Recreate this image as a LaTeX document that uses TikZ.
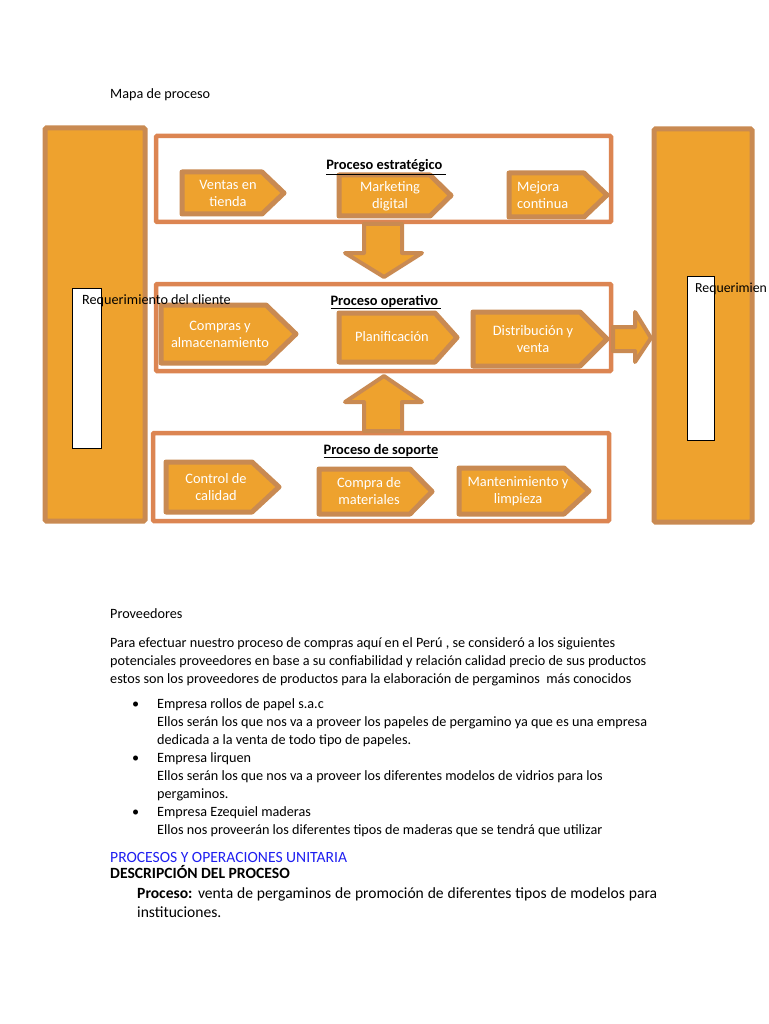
\documentclass[tikz,border=0pt]{standalone}
\usepackage{fontspec}
\setmainfont{Carlito}
\definecolor{fillor}{HTML}{EEA22E}
\definecolor{brd}{HTML}{C98A52}
\definecolor{boxbrd}{HTML}{DC8552}
\definecolor{blu}{HTML}{1F1FF0}
\tikzset{
 bigbar/.style={fill=fillor, draw=brd, line width=5pt, rounded corners=1.5pt},
 procbox/.style={draw=boxbrd, line width=4.5pt, fill=white, rounded corners=1pt},
 chevshape/.style={fill=fillor, draw=brd, line width=5pt, line join=round},
 chevtext/.style={text=white, font=\fontsize{14.4}{17}\selectfont, align=center, inner sep=0},
 titletext/.style={font=\fontsize{14.4}{16}\selectfont\bfseries, inner sep=0, anchor=base},
 body/.style={font=\fontsize{14.2}{18}\selectfont, inner sep=0, anchor=base west},
 whitebar/.style={fill=white, draw=black, line width=0.8pt},
 bigarrow/.style={fill=fillor, draw=brd, line width=4pt, line join=round},
}
% #1 name, #2 x1, #3 y1, #4 x2 (tip), #5 y2, #6 tip start
\newcommand\chevpath[6]{%
 \draw[chevshape] (#2,#3) -- (#6,#3) -- (#4,{(#3+#5)/2}) -- (#6,#5) -- (#2,#5) -- cycle;
 \coordinate (#1) at ({(#2+#4)/2},{(#3+#5)/2});
}
\begin{document}
\begin{tikzpicture}[x=1pt,y=-1pt]
\useasboundingbox (0,0) rectangle (768,1024);
% side bars
\draw[bigbar] (45,128) rectangle (145,521);
\draw[bigbar] (654,129) rectangle (752,522);
\draw[whitebar] (72,288) rectangle (101,448);
\draw[whitebar] (687,276) rectangle (714,440);
% process boxes
\draw[procbox] (156,136) rectangle (611,222);
\draw[procbox] (156,284) rectangle (611,371);
\draw[procbox] (153,433) rectangle (609,521);
% block arrows
\draw[bigarrow] (364,224) -- (364,253) -- (345,253) -- (384,277) -- (422,253) -- (402,253) -- (402,224) -- cycle;
\draw[bigarrow] (364,431) -- (364,402) -- (345,402) -- (384,376) -- (422,402) -- (402,402) -- (402,431) -- cycle;
\draw[bigarrow] (613,327) -- (635,327) -- (635,312) -- (651,338) -- (635,362) -- (635,351) -- (613,351) -- cycle;
% chevrons
\chevpath{c1}{182}{172}{284}{214}{262}
\chevpath{c2}{339}{175}{451}{216}{430}
\chevpath{c3}{509}{173}{607}{217}{584}
\chevpath{c4}{161}{305}{296}{363}{266}
\chevpath{c5}{339}{313}{457}{362}{435}
\chevpath{c6}{473}{312}{607}{366}{580}
\chevpath{c7}{166}{462}{279}{512}{252}
\chevpath{c8}{319}{469}{432}{514}{410}
\chevpath{c9}{459}{468}{589}{514}{564}
\node[chevtext] (t1) at (228,193.5) {Ventas en\\tienda};
\node[chevtext] (t2) at (390,196) {Marketing\\digital};
\node[chevtext, align=left, anchor=west] (t3) at (517,195.5) {Mejora\\continua};
\node[chevtext] (t4) at (220,334.5) {Compras y\\almacenamiento};
\node[chevtext] (t5) at (392,337) {Planificación};
\node[chevtext] (t6) at (533,339) {Distribución y\\venta};
\node[chevtext] (t7) at (216,487) {Control de\\calidad};
\node[chevtext] (t8) at (369,491) {Compra de\\materiales};
\node[chevtext] (t9) at (518,491.5) {Mantenimiento y\\limpieza};
% titles
\node[titletext] (h1) at (386,170) {\underline{Proceso estratégico\ }};
\node[titletext] (h2) at (386,305) {\underline{Proceso operativo\ }};
\node[titletext] (h3) at (381,454) {\underline{Proceso de soporte}};
% side labels
\node[body] (rq1) at (82,304) {Requerimiento del cliente};
\node[body, font=\fontsize{13.8}{18}\selectfont] (rq2) at (695,292) {Requerimien};
% text
\node[body] (mapa) at (110,99) {Mapa de proceso};
\node[body] (prov) at (110,618) {Proveedores};
\node[body] (p1) at (110,647) {Para efectuar nuestro proceso de compras aquí en el Perú , se consideró a los siguientes};
\node[body] (p2) at (110,665) {potenciales proveedores en base a su confiabilidad y relación calidad precio de sus productos};
\node[body] (p3) at (110,683) {estos son los proveedores de productos para la elaboración de pergaminos\ \ más conocidos};
\node[body] (b1) at (132,708) {•};
\node[body] (b2) at (132,762) {•};
\node[body] (b3) at (132,816) {•};
\node[body] (l1) at (157,708) {Empresa rollos de papel s.a.c};
\node[body] (l2) at (157,726) {Ellos serán los que nos va a proveer los papeles de pergamino ya que es una empresa};
\node[body] (l3) at (157,744) {dedicada a la venta de todo tipo de papeles.};
\node[body] (l4) at (157,762) {Empresa lirquen};
\node[body] (l5) at (157,780) {Ellos serán los que nos va a proveer los diferentes modelos de vidrios para los};
\node[body] (l6) at (157,798) {pergaminos.};
\node[body] (l7) at (157,816) {Empresa Ezequiel maderas};
\node[body] (l8) at (157,834) {Ellos nos proveerán los diferentes tipos de maderas que se tendrá que utilizar};
\node[body, font=\fontsize{15.6}{18}\selectfont, text=blu] (s1) at (110,862) {PROCESOS Y OPERACIONES UNITARIA};
\node[body, font=\fontsize{15.6}{18}\selectfont\bfseries] (s2) at (110,878) {DESCRIPCIÓN DEL PROCESO};
\node[body, font=\fontsize{15.6}{19}\selectfont] (d1) at (137,898) {\makebox[520pt][s]{\textbf{Proceso:} venta de pergaminos de promoción de diferentes tipos de modelos para}};
\node[body, font=\fontsize{15.6}{19}\selectfont] (d2) at (137,917) {instituciones.};
\end{tikzpicture}
\end{document}
